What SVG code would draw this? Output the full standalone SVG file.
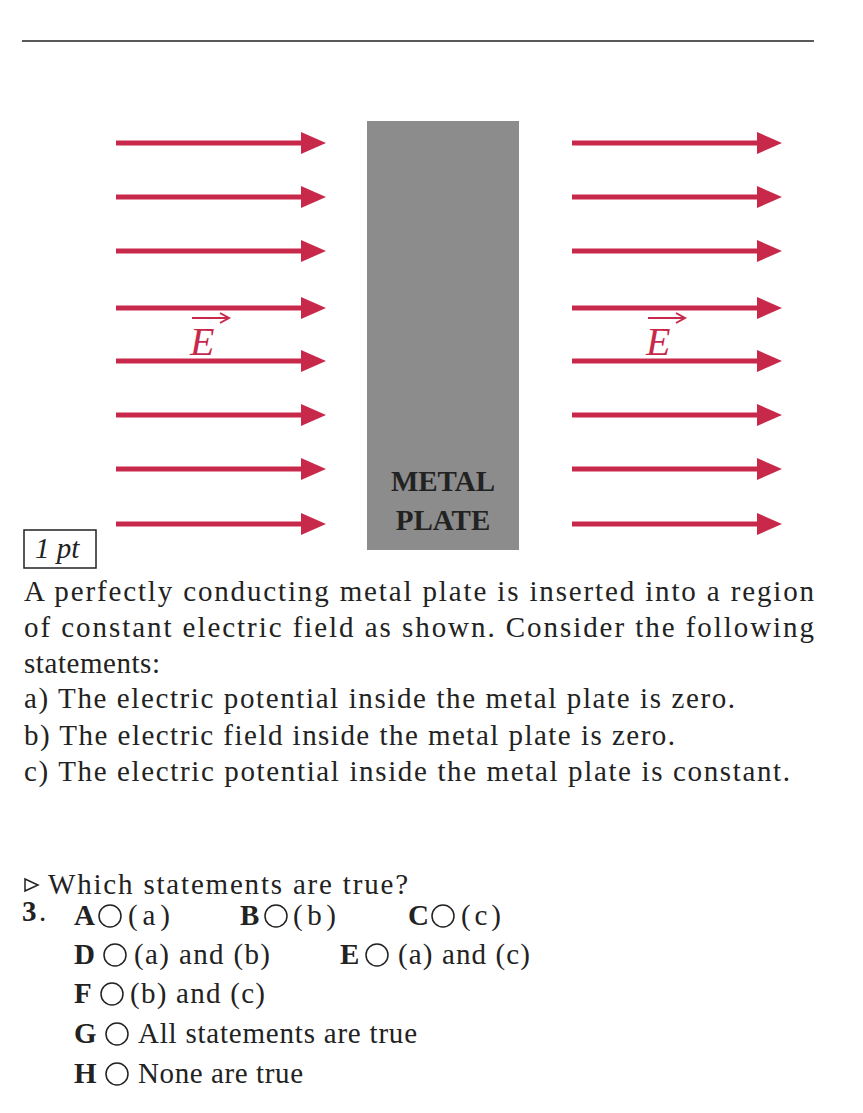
<svg xmlns="http://www.w3.org/2000/svg" width="863" height="1113" viewBox="0 0 863 1113">
<style>
.a{stroke:#c8294a;stroke-width:5;fill:none}
.h{fill:#c8294a}
.t{font-family:"Liberation Serif",serif;font-size:29px;fill:#222}
.b{font-weight:bold}
.e{font-family:"Liberation Serif",serif;font-size:40px;font-style:italic;fill:#c8294a}
.c{fill:none;stroke:#222;stroke-width:1.5}
</style>
<defs>
<g id="arr"><line class="a" x1="0" y1="0" x2="188" y2="0"/><polygon class="h" points="185,-11 210,0 185,11"/></g>
</defs>
<rect width="863" height="1113" fill="#fff"/>
<line x1="22" y1="41" x2="814" y2="41" stroke="#222" stroke-width="1.5"/>
<g id="plate"><rect x="367" y="121" width="152" height="429" fill="#8c8c8c"/>
<text x="443" y="491" text-anchor="middle" font-family="Liberation Serif,serif" font-weight="bold" font-size="29" fill="#222">METAL</text>
<text x="443" y="530" text-anchor="middle" font-family="Liberation Serif,serif" font-weight="bold" font-size="29" fill="#222">PLATE</text></g>
<g id="connectors">
<use href="#arr" x="116" y="143"/><use href="#arr" x="116" y="197"/><use href="#arr" x="116" y="251"/><use href="#arr" x="116" y="308"/><use href="#arr" x="116" y="361"/><use href="#arr" x="116" y="415"/><use href="#arr" x="116" y="469"/><use href="#arr" x="116" y="524"/>
<use href="#arr" x="572" y="143"/><use href="#arr" x="572" y="197"/><use href="#arr" x="572" y="251"/><use href="#arr" x="572" y="308"/><use href="#arr" x="572" y="361"/><use href="#arr" x="572" y="415"/><use href="#arr" x="572" y="469"/><use href="#arr" x="572" y="524"/>
</g>
<g id="labels">
<text class="e" x="190" y="355">E</text><line x1="192" y1="318" x2="228" y2="318" stroke="#c8294a" stroke-width="2"/><polyline points="220,313 229,318 220,323" fill="none" stroke="#c8294a" stroke-width="2"/>
<text class="e" x="646" y="355">E</text><line x1="648" y1="318" x2="684" y2="318" stroke="#c8294a" stroke-width="2"/><polyline points="676,313 685,318 676,323" fill="none" stroke="#c8294a" stroke-width="2"/>
</g>
<g id="text">
<rect x="24" y="530" width="72" height="38" fill="#fff" stroke="#222" stroke-width="1.5"/>
<text class="t" x="35" y="558" font-style="italic">1 pt</text>
<text class="t" x="24" y="601" textLength="790">A perfectly conducting metal plate is inserted into a region</text>
<text class="t" x="24" y="637" textLength="790">of constant electric field as shown.  Consider the following</text>
<text class="t" x="24" y="673" textLength="136">statements:</text>
<text class="t" x="24" y="708" textLength="711">a) The electric potential inside the metal plate is zero.</text>
<text class="t" x="24" y="745" textLength="651">b) The electric field inside the metal plate is zero.</text>
<text class="t" x="24" y="781" textLength="766">c) The electric potential inside the metal plate is constant.</text>
<polygon points="25,879 38,885 25,891" fill="none" stroke="#222" stroke-width="1.5"/>
<text class="t" x="48" y="894" textLength="360">Which statements are true?</text>
<text class="t b" x="22" y="921">3</text><text class="t" x="39" y="921">.</text>
<text class="t b" x="74" y="925">A</text><circle class="c" cx="110" cy="916" r="11"/><text class="t" x="128" y="925" textLength="42">(a)</text>
<text class="t b" x="240" y="925">B</text><circle class="c" cx="276" cy="916" r="11"/><text class="t" x="293" y="925" textLength="43">(b)</text>
<text class="t b" x="408" y="925">C</text><circle class="c" cx="443" cy="916" r="11"/><text class="t" x="461" y="925" textLength="40">(c)</text>
<text class="t b" x="74" y="964">D</text><circle class="c" cx="115" cy="955" r="11"/><text class="t" x="134" y="964" textLength="136">(a) and (b)</text>
<text class="t b" x="340" y="964">E</text><circle class="c" cx="377" cy="955" r="11"/><text class="t" x="398" y="964" textLength="132">(a) and (c)</text>
<text class="t b" x="74" y="1003">F</text><circle class="c" cx="112" cy="994" r="11"/><text class="t" x="130" y="1003" textLength="135">(b) and (c)</text>
<text class="t b" x="74" y="1043">G</text><circle class="c" cx="117" cy="1034" r="11"/><text class="t" x="138" y="1043" textLength="279">All statements are true</text>
<text class="t b" x="74" y="1083">H</text><circle class="c" cx="117" cy="1074" r="11"/><text class="t" x="138" y="1083" textLength="165">None are true</text>
</g>
</svg>
